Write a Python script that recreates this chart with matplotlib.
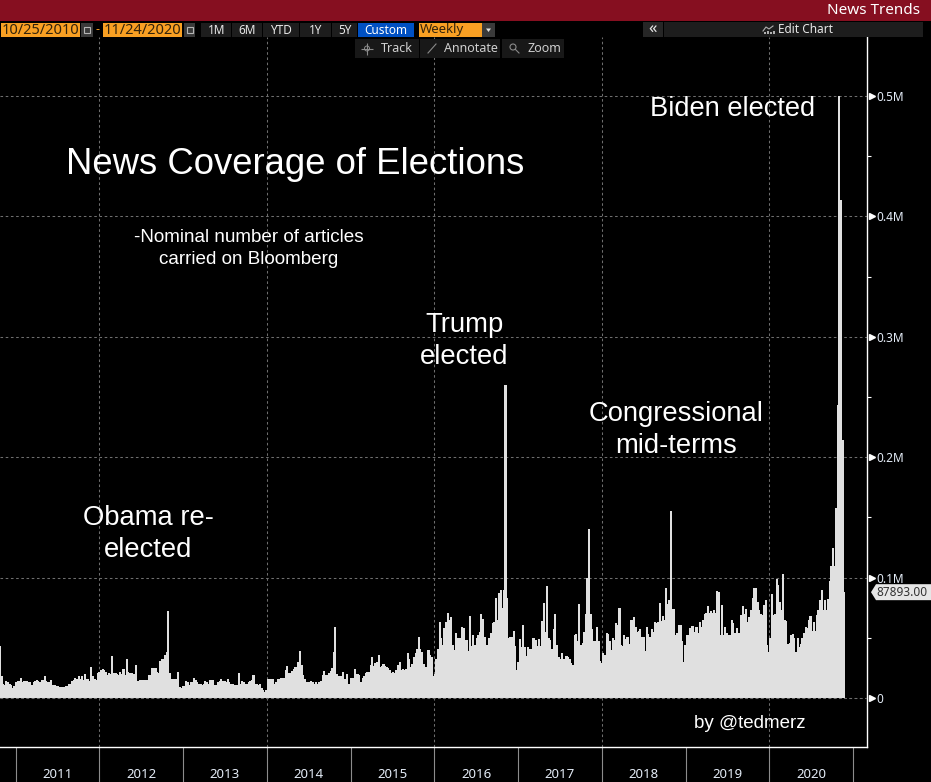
import matplotlib
matplotlib.use("Agg")
import matplotlib.dates as mdates
import matplotlib.pyplot as plt
from matplotlib.patches import Rectangle, Polygon, Circle
import numpy as np
import pandas as pd

# weekly article counts, in thousands
counts_2010_12 = [
    43, 18, 12, 11, 14, 13, 12, 11, 8, 10,
    13, 14, 14, 17, 13, 14, 14, 14, 13, 13,
    11, 13, 14, 15, 14, 13, 15, 15, 18, 14,
    13, 13, 15, 11, 11, 10, 10, 9.5, 9, 9,
    9.5, 10, 10, 12, 12, 14, 15, 17, 16, 18,
    16, 18, 15, 20, 16, 16, 14, 26, 18, 16,
    15, 21, 22, 23, 24, 23, 22, 19, 21, 20,
    35, 21, 21, 20, 19, 22, 20, 24, 19, 32,
    22, 21, 21, 20, 20, 27, 14, 15, 15, 15,
    15, 15, 15, 19, 19, 25, 25, 25, 22, 21,
    31, 32, 32, 36, 38, 72,
]
counts_2012_14 = [
    21, 15.5, 16, 16, 16, 22, 9.5, 8, 10, 10,
    14, 13, 11, 13, 13.5, 17, 15, 13.5, 12, 11.5,
    11, 12, 14, 13, 11.5, 15, 15, 15, 11, 11,
    13.5, 14.5, 16, 14.5, 14, 13, 15.5, 13, 12, 11.5,
    11, 10.5, 11, 21, 11.5, 14.5, 13.5, 12, 11.5, 13,
    14, 15, 19, 12, 11.5, 11, 11.5, 8, 7, 5,
    6.5, 15.5, 15.5, 15.5, 15.5, 12, 13.5, 15.5, 16, 17,
    17, 17, 23, 26.5, 21, 20.5, 22.5, 24, 26, 26,
    30, 39, 27, 19, 15.5, 13.5, 13, 13.5, 14, 13,
    11.5, 13.5, 12, 13.5, 14.5, 19, 22.5, 19, 19, 21,
    22.5, 25, 38, 59, 20, 18,
]
counts_2014_16 = [
    18, 18, 22, 16, 20, 12, 11.5, 17, 17, 24,
    20, 20, 19, 13.5, 17, 18, 21, 22, 22, 27.5,
    34, 26.5, 29, 30, 36, 25.5, 26.5, 28, 26.5, 25.5,
    25, 23, 21, 22, 21, 23, 27, 30, 23, 24,
    23, 24, 37, 32, 25.5, 28, 34, 37, 41, 51,
    41, 38.5, 28, 26, 25.5, 40, 36, 34, 18, 20,
    32, 41, 63, 50, 44, 58, 63, 71, 65, 67,
    44, 40, 54, 50, 50, 50, 59, 58, 48, 48,
    39, 68, 43, 52, 44, 50, 52, 55, 70, 66,
    51, 44, 44, 50, 54, 62, 63, 83, 65, 87,
    90, 75, 90, 260, 83, 50,
]
counts_2016_18 = [
    51, 51, 56, 43, 23, 30, 49, 42, 61, 42,
    35, 42, 41, 41, 50, 50, 48, 43, 49, 43,
    64, 79, 55, 93, 50, 48, 41, 57, 70, 44,
    34, 32, 37, 32, 32, 35, 34, 32, 29, 27,
    52, 53, 47, 78, 44, 46, 55, 70, 100, 140,
    70, 57, 47, 47, 59, 47, 31, 29, 37, 36,
    54, 53, 47, 40, 50, 48, 62, 61, 75, 44,
    43, 52, 49, 51, 45, 65, 65, 67, 59, 55,
    56, 57, 51, 51, 39, 59, 53, 51, 57, 55,
    63, 62, 63, 79, 64, 68, 65, 91, 78, 81,
    155, 74, 74, 52, 54, 61,
]
counts_2018_20 = [
    61, 47, 30, 44, 52, 52, 58, 60, 60, 55,
    59, 54, 63, 59, 65, 70, 71, 76, 71, 72,
    71, 73, 71, 89, 88, 52, 77, 52, 59, 54,
    52, 52, 65, 62, 54, 58, 54, 54, 69, 76,
    70, 74, 63, 67, 73, 83, 91, 91, 80, 73,
    70, 69, 77, 81, 44, 38, 50, 86, 69, 70,
    99, 94, 80, 73, 103, 65, 64, 45, 46, 52,
    53, 50, 38, 50, 42, 45, 50, 54, 59, 58,
    65, 68, 56, 63, 56, 69, 73, 81, 90, 73,
    81, 73, 82, 97, 110, 125, 110, 158, 243, 500,
    414, 214, 87.893,
]
y_ticks = [0, 0.1, 0.2, 0.3, 0.4, 0.5]
y_labels = ["0", "0.1M", "0.2M", "0.3M", "0.4M", "0.5M"]
years = list(range(2011, 2021))
range_buttons = ["1M", "6M", "YTD", "1Y", "5Y"]
last_value = 87893.0

counts = np.array(counts_2010_12 + counts_2012_14 + counts_2014_16 + counts_2016_18 + counts_2018_20)
weeks = pd.date_range("2010-10-25", periods=len(counts), freq="7D")

W, H = 931, 782
BG = "#000000"
BAR = "#e0e0e0"
GRID = "#6e6e6e"
LABEL = "#e4ecf7"
CHROME = "#1d1d1d"
AMBER = "#f9a023"

fig = plt.figure(figsize=(W / 100, H / 100), dpi=100, facecolor=BG)

# price-panel style axes, right edge at 867 px, bottom at 747 px
ax = fig.add_axes([0, (H - 747) / H, 867 / W, (747 - 37) / H], facecolor=BG)
px_per_day = 0.2293
jan2011 = mdates.date2num(pd.Timestamp("2011-01-01"))
ax.set_xlim(jan2011 - 15.5 / px_per_day, jan2011 + (867 - 15.5) / px_per_day)
px_per_unit = 1204.0  # pixels per 1M articles
ax.set_ylim(-(747 - 698) / px_per_unit, (698 - 37) / px_per_unit)

# wider than a week so single-week spikes stay two pixels thick
ax.bar(mdates.date2num(weeks), counts / 1000, width=9, align="center", color=BAR, linewidth=0, zorder=3)

for s in ["top", "left"]:
    ax.spines[s].set_visible(False)
for s in ["bottom", "right"]:
    ax.spines[s].set_color("white")
    ax.spines[s].set_linewidth(1.0)

# y axis on the right
ax.yaxis.tick_right()
ax.set_yticks(y_ticks)
ax.set_yticklabels(y_labels)
ax.set_yticks(np.array(y_ticks[:-1]) + 0.05, minor=True)
ax.tick_params(axis="y", which="major", length=0, pad=7, labelsize=8.5, labelcolor=LABEL, labelfontfamily="Noto Sans")
ax.tick_params(axis="y", which="minor", length=3, width=0.8, color="white")
ax.plot(np.full(len(y_ticks), 872 / 867), y_ticks, transform=ax.get_yaxis_transform(), marker=">", ms=5,
        color="white", ls="none", clip_on=False, zorder=5)
ax.yaxis.grid(True, which="major", color=GRID, lw=0.75, ls=(0, (2.5, 2.5)), zorder=1)
ax.axhline(0, color=GRID, lw=0.75, ls=(0, (2.5, 2.5)), zorder=4)

# year separators below the panel, year names centred between them
year_edges = [mdates.date2num(pd.Timestamp(f"{y}-01-01")) for y in years + [2021]]
ax.set_xticks(year_edges)
ax.set_xticklabels([])
ax.set_xticks([(a + b) / 2 for a, b in zip(year_edges[:-1], year_edges[1:])], minor=True)
ax.set_xticklabels([str(y) for y in years], minor=True)
ax.tick_params(axis="x", which="major", length=25.5, width=0.8, color="#8c8c8c")
ax.tick_params(axis="x", which="minor", length=0, pad=15, labelsize=9.5, labelcolor=LABEL, labelfontfamily="Noto Sans")

# dashed verticals every other year
for edge in year_edges[1::2]:
    ax.axvline(edge, color=GRID, lw=0.75, ls=(0, (2.5, 2.5)), zorder=1)

# overlay in pixel coordinates for toolbar and captions
top = fig.add_axes([0, 0, 1, 1], facecolor="none")
top.set_xlim(0, W)
top.set_ylim(H, 0)
top.axis("off")


def box(x0, y0, x1, y1, color):
    top.add_patch(Rectangle((x0, y0), x1 - x0, y1 - y0, facecolor=color, edgecolor="none"))


def label(x, y, s, size=8.5, color="#e8e8e8", ha="center", family="Noto Sans"):
    top.text(x, y, s, fontsize=size, color=color, ha=ha, va="center", family=family)


box(0, 0, W, 21, "#860f20")
label(920, 10, "News Trends", size=11, color="white", ha="right")

# date range fields
box(1, 23, 80, 37, AMBER)
box(81, 23, 93, 37, "#3a3a3a")
box(103, 23, 182, 37, AMBER)
box(184, 23, 195, 37, "#3a3a3a")
label(40.5, 30, "10/25/2010", size=10.5, color="#33240c")
label(142.5, 30, "11/24/2020", size=10.5, color="#33240c")
label(98, 30, "-", size=9, color=AMBER)
for cx in (87, 189.5):
    top.add_patch(Rectangle((cx - 3, 27), 6, 6, facecolor="none", edgecolor="#b5b5b5", lw=0.8))

# range buttons
btn_edges = [201, 232, 263, 300, 332, 358]
for name, a, b in zip(range_buttons, btn_edges[:-1], btn_edges[1:]):
    box(a, 23, b - 1, 37, CHROME)
    label((a + b) / 2, 30, name, size=8.5)
box(358, 23, 414, 37, "#0050c2")
label(386, 30, "Custom", size=8.5, color="white")
box(419, 23, 482, 37, AMBER)
label(420, 30, "Weekly", size=9.5, color="#33240c", ha="left")
box(482, 23, 495, 37, "#3a3a3a")
top.add_patch(Polygon([(486, 28.5), (491, 28.5), (488.5, 32)], facecolor="#e0e0e0", edgecolor="none"))

# track / annotate / zoom row
box(355, 39, 419, 58, "#181818")
box(420, 39, 500, 58, "#181818")
box(502, 39, 564, 58, "#181818")
label(397, 49, "Track", size=9, color="#cfcfcf")
label(471, 49, "Annotate", size=9, color="#cfcfcf")
label(544, 49, "Zoom", size=9, color="#cfcfcf")
top.plot([367], [48.5], marker="+", ms=8, mew=0.8, color="#8a8a8a")
top.add_patch(Circle((367, 48.5), 2.5, facecolor="none", edgecolor="#8a8a8a", lw=0.7))
top.plot([428, 436], [53, 44], color="#8a8a8a", lw=0.8)
top.add_patch(Circle((513, 47), 3, facecolor="none", edgecolor="#8a8a8a", lw=0.8))
top.plot([515.5, 519], [49.5, 53], color="#8a8a8a", lw=0.8)

# right side toolbar
box(643, 22, 663, 37, "#262626")
box(664, 22, 923, 37, CHROME)
label(653, 29, "«", size=12, color="#e8e8e8")
label(806, 29.5, "Edit Chart", size=8.5)
top.plot([763, 766, 769, 773], [31, 27, 29, 26], color="#b0b0b0", lw=0.8)
for bx, bh in zip([764, 767, 770, 773], [2, 3, 2, 3]):
    box(bx, 34 - bh, bx + 2, 34, "#b0b0b0")

# last value tag
tag_y = ax.transData.transform((0, last_value / 1e6))[1]
tag_y = H - tag_y
top.add_patch(Polygon([(871, tag_y), (876, tag_y - 8), (931, tag_y - 8), (931, tag_y + 8), (876, tag_y + 8)],
                      facecolor="#e6e6e6", edgecolor="none"))
label(902, tag_y + 0.5, f"{last_value:.2f}", size=8.5, color="#333333")

# captions
CAP = "Liberation Sans"
label(295, 164, "News Coverage of Elections", size=26.3, color="white", family=CAP)
label(249, 238, "-Nominal number of articles", size=13.6, color="white", family=CAP)
label(249, 260, "carried on Bloomberg", size=13.6, color="white", family=CAP)
label(464.5, 325, "Trump", size=19.8, color="white", family=CAP)
label(464.5, 357, "elected", size=19.8, color="white", family=CAP)
label(733, 109, "Biden elected", size=19.6, color="white", family=CAP)
label(676.5, 414, "Congressional", size=19.7, color="white", family=CAP)
label(676, 446, "mid-terms", size=19.7, color="white", family=CAP)
label(148.5, 518, "Obama re-", size=19.7, color="white", family=CAP)
label(148.5, 550, "elected", size=19.7, color="white", family=CAP)
label(750, 724, "by @tedmerz", size=13.5, color="white", family=CAP)

fig.savefig("out.png", dpi=100, facecolor=BG)
